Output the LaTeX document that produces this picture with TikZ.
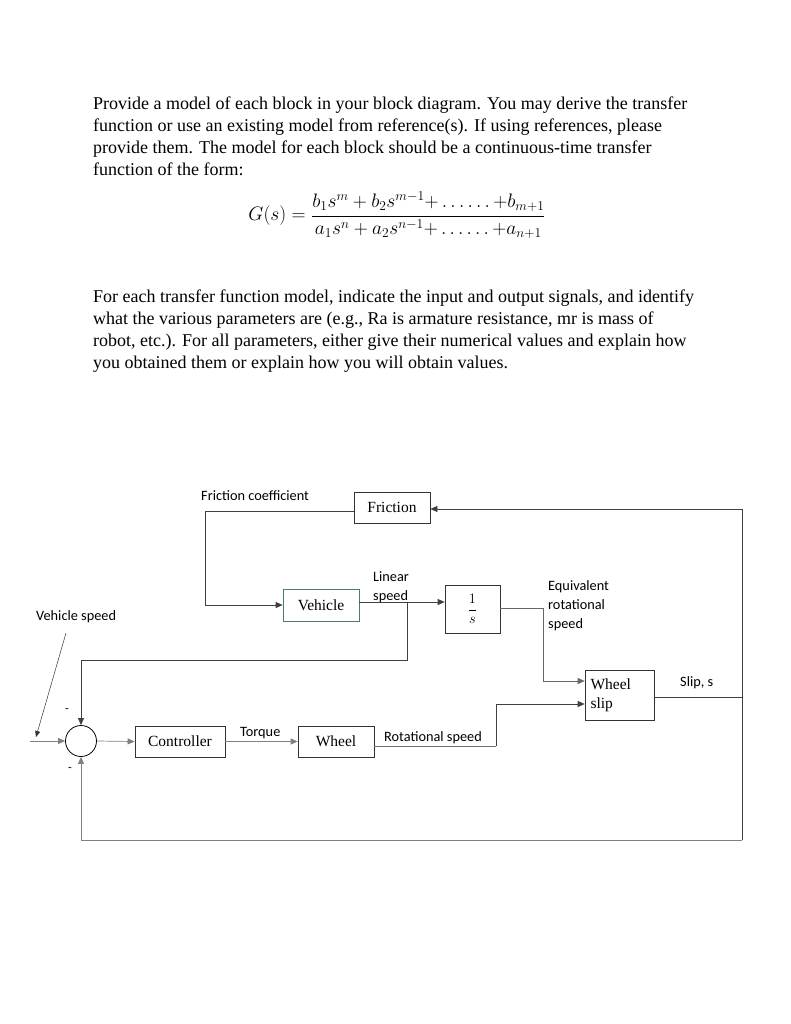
\documentclass[tikz,border=0pt]{standalone}
\usepackage{graphicx}
\usepackage{fontspec}
\setmainfont{Liberation Serif}
\newfontfamily\lab{Carlito}
\usetikzlibrary{arrows.meta}
\begin{document}
\begin{tikzpicture}[x=1pt,y=-1pt,
  para/.style={anchor=base west,inner sep=0pt,font=\fontsize{18}{22}\selectfont},
  blk/.style={draw=black!80,line width=0.7pt,inner sep=0pt,font=\fontsize{15.5}{17}\selectfont},
  lbl/.style={inner sep=0pt,font=\lab\fontsize{14.3}{19}\selectfont,align=left,yshift=-1.5pt},
  wire/.style={line width=0.7pt,draw=black!75},
  arr/.style={wire,-{Triangle[length=7pt,width=6pt]}}]
\fill[white] (0,0) rectangle (791,1024);
\useasboundingbox (0,0) rectangle (791,1024);
% paragraph 1
\node[para] (p1) at (93,109.5) {Provide a model of each block in your block diagram. You may derive the transfer};
\node[para] (p2) at (93,131.5) {function or use an existing model from reference(s). If using references, please};
\node[para] (p3) at (93,153.5) {provide them. The model for each block should be a continuous-time transfer};
\node[para] (p4) at (93,175.5) {function of the form:};
% formula
\node[inner sep=0pt,font=\fontsize{19.5}{21}\selectfont] (eq) at (397,215)
  {\scalebox{0.94}{$\displaystyle G(s)=\frac{b_1s^m+b_2s^{m-1}{+}\ldots\ldots{+}b_{m+1}}{a_1s^n+a_2s^{n-1}{+}\ldots\ldots{+}a_{n+1}}$}};
% paragraph 2
\node[para] (q1) at (93,302.5) {For each transfer function model, indicate the input and output signals, and identify};
\node[para] (q2) at (93,324.5) {what the various parameters are (e.g., Ra is armature resistance, mr is mass of};
\node[para] (q3) at (93,346.5) {robot, etc.). For all parameters, either give their numerical values and explain how};
\node[para] (q4) at (93,368.5) {you obtained them or explain how you will obtain values.};
% blocks
\node[blk,minimum width=76pt,minimum height=31pt] (fric) at (392,507.5) {Friction};
\node[blk,draw=teal!50!black!70,minimum width=76pt,minimum height=32pt] (veh) at (321,605) {Vehicle};
\node[blk,minimum width=55pt,minimum height=48pt,font=\fontsize{14}{16}\selectfont] (integ) at (472.5,609) {$\displaystyle\frac{1}{s}$};
\node[blk,minimum width=69pt,minimum height=50pt,align=left,text width=58pt] (slip) at (619.5,695) {Wheel\\[2pt]slip};
\node[blk,minimum width=90pt,minimum height=31pt] (ctrl) at (180,741.5) {Controller};
\node[blk,minimum width=76pt,minimum height=31pt] (whl) at (336,741.5) {Wheel};
\node[draw,line width=0.8pt,circle,minimum size=31pt,inner sep=0pt] (sum) at (81,741) {};
% labels
\node[lbl,anchor=west] (lfc) at (201,494) {Friction coefficient};
\node[lbl,anchor=west] (lls) at (373,586) {Linear\\speed};
\node[lbl,anchor=west] (leq) at (548,604) {Equivalent\\rotational\\speed};
\node[lbl,anchor=west] (lslip) at (680,681) {Slip, s};
\node[lbl,anchor=west] (ltq) at (240,732) {Torque};
\node[lbl,anchor=west] (lrs) at (384,736) {Rotational speed};
\node[lbl,anchor=west] (lvs) at (36,615) {Vehicle speed};
\node[inner sep=0pt,font=\lab\fontsize{12}{12}\selectfont] (m1) at (67,711) {-};
\node[inner sep=0pt,font=\lab\fontsize{12}{12}\selectfont] (m2) at (70,770) {-};
% coordinates
\coordinate (fcl) at (205,511);
\coordinate (fcb) at (205,605);
\coordinate (br) at (407,602);
\coordinate (brb) at (407,660);
\coordinate (brl) at (81,660);
\coordinate (io1) at (543,608);
\coordinate (io2) at (543,681);
\coordinate (rs1) at (496,746);
\coordinate (rs2) at (496,704);
\coordinate (sr) at (742,697);
\coordinate (st) at (742,509);
\coordinate (sb) at (742,840);
\coordinate (fb) at (81,840);
\coordinate (inp) at (30,741);
\coordinate (vs1) at (66,633);
\coordinate (vs2) at (36,737);
% wires
\draw[arr] (fric.west|-fcl) -- (fcl) -- (fcb) -- (veh.west|-fcb);
\draw[arr] (veh.east|-br) -- (integ.west|-br);
\draw[arr] (br) -- (brb) -- (brl) -- (sum.north);
\draw[arr,draw=black!60] (integ.east|-io1) -- (io1) -- (io2) -- (slip.west|-io2);
\draw[wire,draw=black!55] (whl.east|-rs1) -- (rs1);
\draw[arr] (rs1) -- (rs2) -- (slip.west|-rs2);
\draw[wire] (slip.east|-sr) -- (sr);
\draw[wire] (st) -- (sb);
\draw[arr] (st) -- (fric.east|-st);
\draw[arr,draw=black!50] (sb) -- (fb) -- (sum.south);
\draw[arr,draw=black!50] (inp) -- (sum.west);
\draw[arr,draw=black!50] (sum.east) -- (ctrl.west);
\draw[arr,draw=black!50] (ctrl.east) -- (whl.west);
\draw[-{Triangle[length=6pt,width=5pt]},line width=0.5pt,draw=black!80] (vs1) -- (vs2);
\end{tikzpicture}
\end{document}
